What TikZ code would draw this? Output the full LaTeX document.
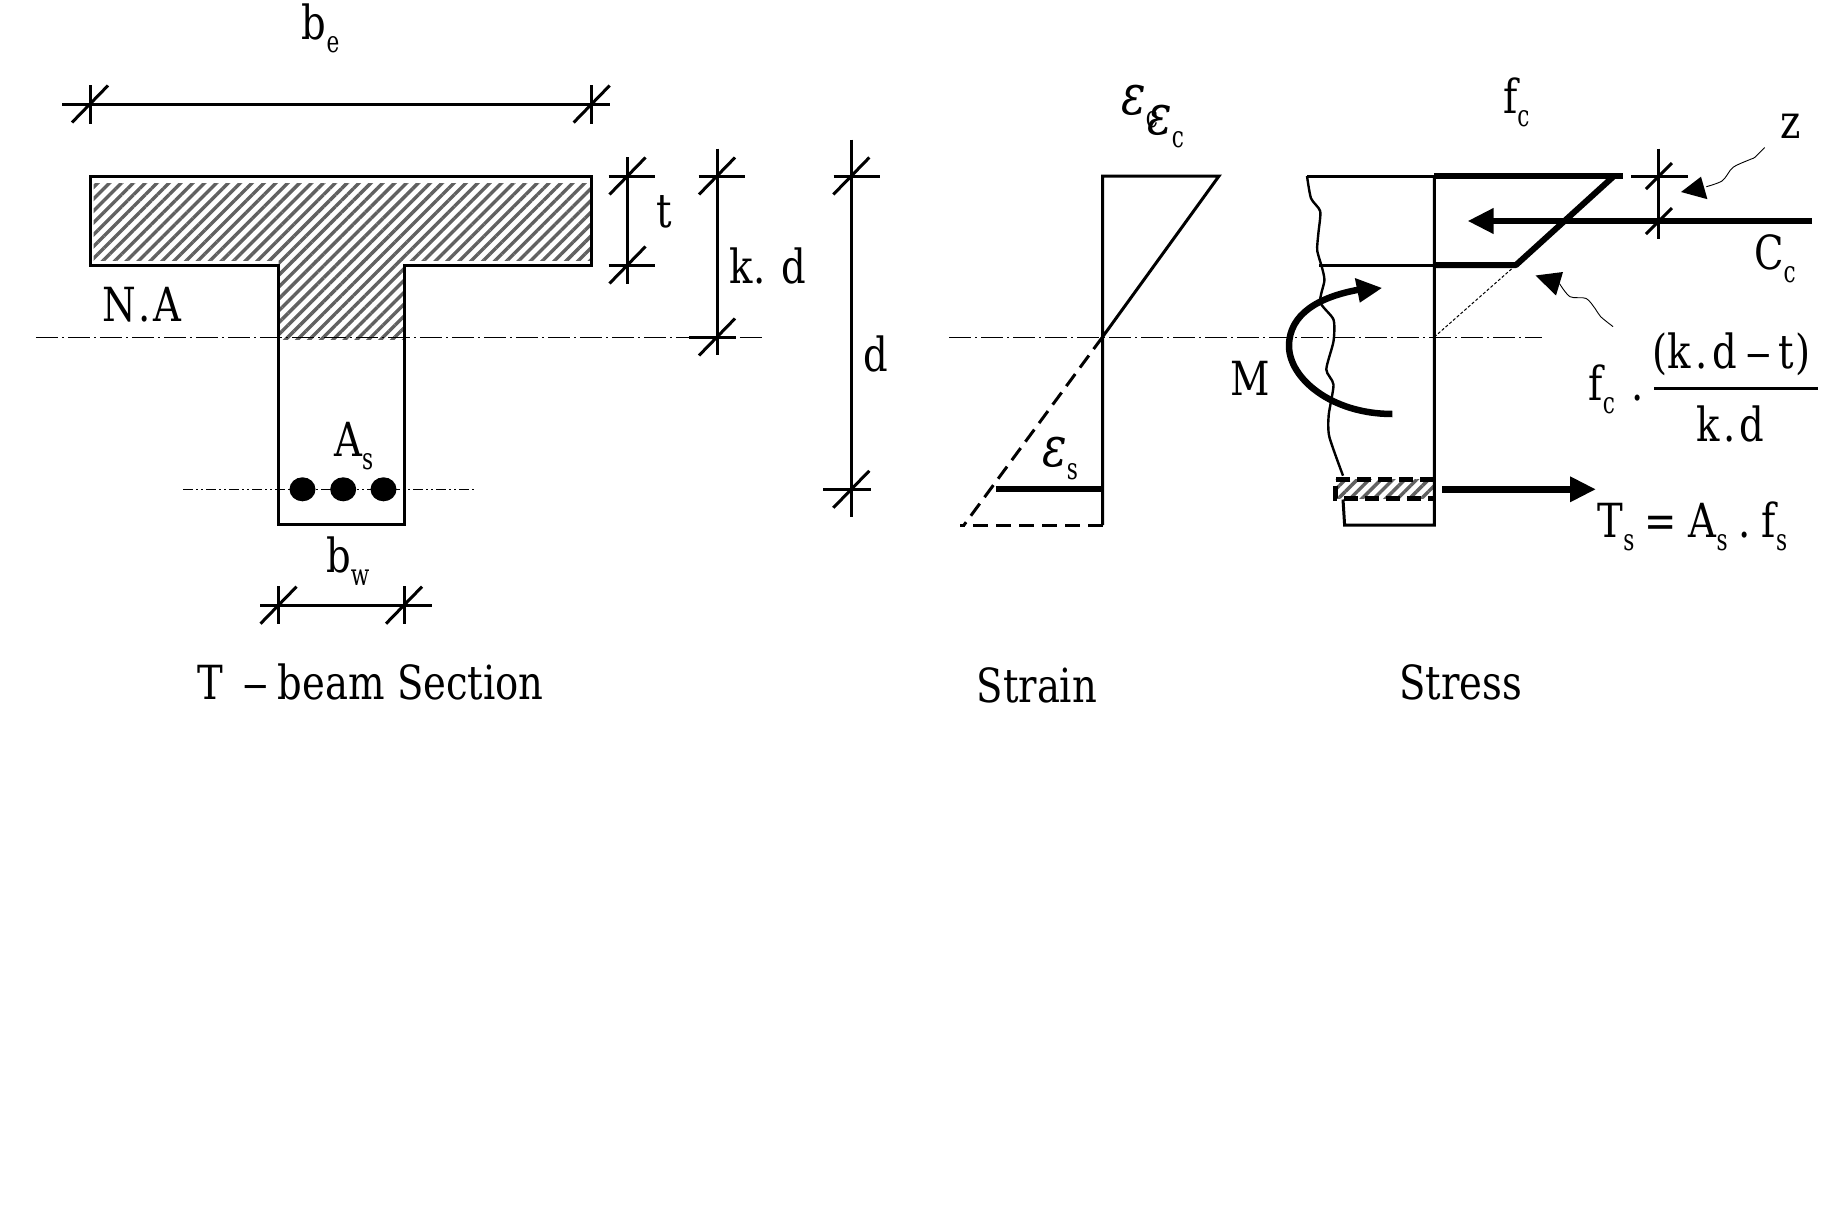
\documentclass[tikz,border=0pt]{standalone}
\usepackage{fontspec}
\setmainfont[FakeStretch=0.82]{DejaVu Serif}
\newfontfamily\subfont[FakeStretch=0.72]{DejaVu Serif}
\usetikzlibrary{arrows.meta,patterns.meta}
\tikzset{
	base line/.style={line width=3pt},
	heavy line/.style={line width=6pt},
	axis line/.style={line width=0.8pt, dash pattern=on 22pt off 4pt on 2pt off 4pt},
	bar line/.style={line width=0.8pt, dash pattern=on 10pt off 3pt on 2pt off 3pt on 2pt off 3pt},
	hatching/.style={pattern={Lines[angle=45, distance=8.4pt, line width=3.4pt]}, pattern color=black!62},
	labeltext/.style={inner sep=0pt, anchor=base west, font=\fontsize{47}{47}\selectfont},
	force/.style={line width=6.5pt, -{Triangle[length=26pt, width=24pt]}}
}
\def\subidx#1{\raisebox{-13pt}{\subfont\fontsize{30}{30}\selectfont #1}}
\def\strainsym{\textit{\fontsize{56}{56}\selectfont ε}}
\def\slashtick(#1,#2){\draw[base line] (#1-18,#2+18.5) -- (#1+18,#2-18.5);}
\def\smalltick(#1,#2){\draw[base line] (#1-13,#2+13) -- (#1+13,#2-13);}
\begin{document}
\begin{tikzpicture}[x=1pt, y=-1pt]
	\useasboundingbox (0, 0) rectangle (1839, 1231);
	%%%%% SECTION %%%%%

	\fill[hatching] (93.5, 183) rectangle (590, 260.3);
	\fill[hatching] (278.5, 260.3) rectangle (404, 339.8);
	\draw[base line] (278.5, 265) -- (90, 265) -- (90, 176) -- (591.7, 176) -- (591.7, 265) -- (404, 265) -- (404, 524) -- (278.5, 524) -- cycle;
	\draw[axis line] (35.8, 337) -- (763, 337);
	\draw[bar line] (183, 489.3) -- (474.5, 489.3);
	\fill (302.5, 489.3) ellipse (13 and 12);
	\fill (343.2, 489.3) ellipse (13 and 12);
	\fill (383.5, 489.3) ellipse (13 and 12);

	\draw[base line] (62, 104) -- (609.8, 104);
	\draw[base line] (90, 85) -- (90, 123.5);
	\draw[base line] (591.7, 85) -- (591.7, 123.5);
	\slashtick(90,104)
	\slashtick(591.7,104)

	\draw[base line] (260, 605.2) -- (431.7, 605.2);
	\draw[base line] (278.5, 586) -- (278.5, 624);
	\draw[base line] (404, 586) -- (404, 624);
	\slashtick(278.5,605.2)
	\slashtick(404,605.2)

	\draw[base line] (627.5, 157) -- (627.5, 284);
	\draw[base line] (608.7, 176) -- (655.3, 176);
	\draw[base line] (608.7, 265) -- (655.3, 265);
	\slashtick(627.5,176)
	\slashtick(627.5,265)

	\draw[base line] (717, 148.5) -- (717, 354.5);
	\draw[base line] (698.5, 176) -- (745, 176);
	\draw[base line] (689, 337) -- (736, 337);
	\slashtick(717,176)
	\slashtick(717,337)

	\draw[base line] (851.3, 139.5) -- (851.3, 517);
	\draw[base line] (833.5, 176) -- (879.5, 176);
	\draw[base line] (823.3, 489.3) -- (870.7, 489.3);
	\slashtick(851.3,176)
	\slashtick(851.3,489.3)

	\node[labeltext] (be) at (301.7, 39.7) {b\subidx{e}};
	\node[labeltext] (neutral) at (102, 321) {N\kern3pt.\kern2pt A};
	\node[labeltext] (as) at (334, 456) {A\subidx{s}};
	\node[labeltext] (bw) at (326, 572.5) {b\subidx{w}};
	\node[labeltext] (t) at (656, 227) {t};
	\node[labeltext] (kd) at (729.5, 283) {k. d};
	\node[labeltext] (d) at (863.5, 371.5) {d};
	\node[labeltext] (section) at (197.5, 699) {T\kern20pt‒\kern10pt beam Section};

	%%%%% STRAIN %%%%%

	\draw[axis line] (949, 337) -- (1542, 337);
	\draw[base line] (1102.5, 525) -- (1102.5, 176) -- (1219, 176) -- (1102.5, 337);
	\draw[base line, dash pattern=on 15pt off 8pt] (1102.5, 337) -- (964, 525);
	\draw[base line, dash pattern=on 15pt off 8pt] (1102.5, 525) -- (960, 525);
	\draw[heavy line] (995.7, 489.3) -- (1102.5, 489.3);

	\node[labeltext] (strainzero) at (1121, 114.7) {\strainsym\subidx{c}};
	\node[labeltext] (strainc) at (1147, 134.6) {\strainsym\subidx{c}};
	\node[labeltext] (strains) at (1042, 466) {\strainsym\subidx{s}};
	\node[labeltext] (strain) at (976.5, 702.5) {Strain};

	%%%%% STRESS %%%%%

	\draw[base line] (1434.3, 176) -- (1307, 176);
	\draw[base line] (1319, 265) -- (1434.3, 265);
	\draw[line width=2.4pt] plot[smooth, tension=0.4] coordinates {(1307, 176) (1311, 198.3) (1320.2, 211.3) (1318.4, 233) (1317.2, 250.3) (1322, 267.6) (1324.4, 280.6) (1320.2, 302.2) (1333.5, 319.6) (1333.5, 341.3) (1326.3, 369.5) (1333.5, 384.7) (1328.7, 415) (1329.3, 436.7) (1343, 475.7)};
	\fill[hatching] (1335.5, 479.7) rectangle (1434.3, 498.6);
	\draw[line width=5pt, dash pattern=on 14pt off 7pt] (1434.3, 479.7) -- (1335.5, 479.7) -- (1335.5, 498.6) -- (1434.3, 498.6);
	\draw[base line] (1343, 499.5) -- (1344.6, 525) -- (1434.3, 525) -- (1434.3, 176);
	\draw[heavy line] (1434.3, 176) -- (1623, 176);
	\draw[heavy line, line join=round] (1614, 176) -- (1516, 265) -- (1434.3, 265);
	\draw[line width=1pt, dash pattern=on 3pt off 2pt] (1434.3, 337) -- (1516, 265);

	\draw[force] (1812, 221) -- (1467.5, 221);
	\draw[force] (1442.3, 489.3) -- (1596, 489.3);

	\draw[line width=6.5pt] (1392.4, 414) .. controls (1331, 414) and (1289, 378) .. (1289, 346) .. controls (1289, 313.4) and (1320, 296.7) .. (1358.7, 289.7);
	\fill (1381.7, 288) -- (1354.8, 278) -- (1359.8, 302.7) -- cycle;

	\draw[base line] (1658.9, 148.5) -- (1658.9, 239);
	\draw[base line] (1631, 176) -- (1688, 176);
	\smalltick(1658.9,176)
	\smalltick(1658.9,221)

	\fill (1681, 192) -- (1701, 176.7) -- (1707.4, 199.2) -- cycle;
	\draw[line width=0.9pt] plot[smooth, tension=0.5] coordinates {(1706.3, 186.7) (1722.4, 180.7) (1733, 167.4) (1751, 159.1) (1754.7, 157.4) (1764.7, 147.5)};
	\fill (1535.5, 275.5) -- (1563, 272) -- (1556, 295.5) -- cycle;
	\draw[line width=0.9pt] plot[smooth, tension=0.5] coordinates {(1559.4, 283.5) (1570, 296.7) (1586, 298.4) (1595, 308.4) (1600.6, 316.6) (1613, 326.6)};

	\draw[base line] (1654, 388.7) -- (1818, 388.7);

	\node[labeltext] (fc) at (1503, 113.5) {f\subidx{c}};
	\node[labeltext] (z) at (1780, 138.5) {z};
	\node[labeltext] (cc) at (1754, 269) {C\subidx{c}};
	\node[labeltext] (m) at (1230.5, 395) {M};
	\node[labeltext] (fcb) at (1588.5, 400) {f\subidx{c}\kern16pt.};
	\node[labeltext] (numer) at (1652, 368) {(k\kern5pt.\kern5pt d\kern9pt‒\kern7pt t\kern2pt)};
	\node[labeltext] (denom) at (1696, 441) {k\kern4pt.\kern4pt d};
	\node[labeltext] (ts) at (1597.5, 537) {T\subidx{s}\kern10pt=\kern12pt A\subidx{s}\kern11pt.\kern11pt f\subidx{s}};
	\node[labeltext] (stress) at (1399, 699.5) {Stress};

	%%%%% END %%%%%
\end{tikzpicture}
\end{document}
